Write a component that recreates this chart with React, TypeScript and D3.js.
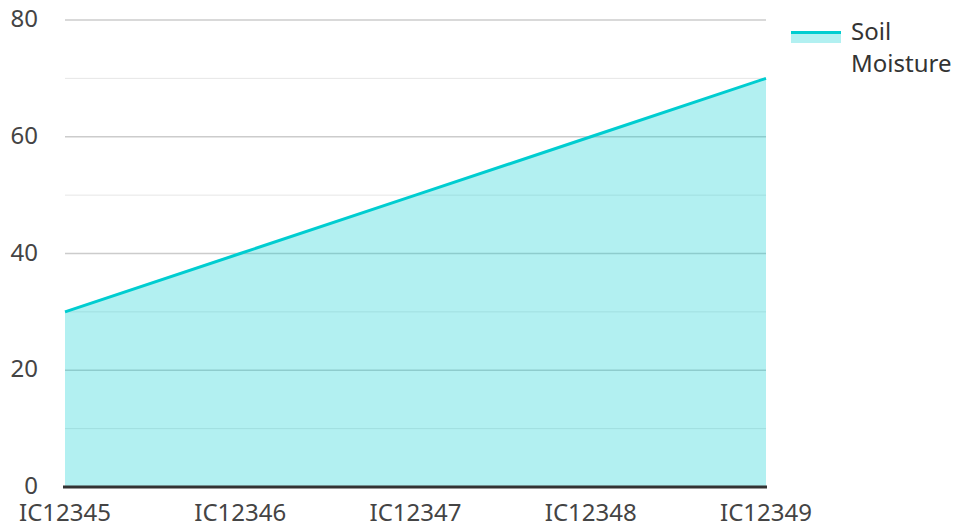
import * as d3 from 'd3';

const categories = ['IC12345', 'IC12346', 'IC12347', 'IC12348', 'IC12349'];
const moisture = [30, 40, 50, 60, 70];
const majorTicks = [0, 20, 40, 60, 80];
const minorTicks = [10, 30, 50, 70];

const width = 956;
const height = 526;
const margin = { top: 20, right: 190, bottom: 39, left: 65 };
const lineColor = '#00cdd0';
const font = '"Noto Sans", "Open Sans", sans-serif';

export default function App() {
  const x = d3
    .scalePoint<string>()
    .domain(categories)
    .range([margin.left, width - margin.right]);
  const y = d3
    .scaleLinear()
    .domain([0, 80])
    .range([height - margin.bottom, margin.top]);

  const pts = categories.map((c, i) => ({ c, v: moisture[i] }));
  const line = d3
    .line<{ c: string; v: number }>()
    .x((d) => x(d.c)!)
    .y((d) => y(d.v));
  const area = d3
    .area<{ c: string; v: number }>()
    .x((d) => x(d.c)!)
    .y0(y(0))
    .y1((d) => y(d.v));

  const x0 = margin.left;
  const x1 = width - margin.right;

  return (
    <svg
      width={width}
      height={height}
      style={{ position: 'absolute', left: 0, top: 0, fontFamily: font }}
    >
      <g>
        {minorTicks.map((t) => (
          <line key={'m' + t} x1={x0} x2={x1} y1={y(t)} y2={y(t)} stroke="#e6e6e6" strokeWidth={1} />
        ))}
        {majorTicks.map((t) => (
          <line key={'M' + t} x1={x0} x2={x1} y1={y(t)} y2={y(t)} stroke="#cccccc" strokeWidth={1.5} />
        ))}
      </g>
      <path d={area(pts)!} fill={lineColor} fillOpacity={0.3} />
      <path d={line(pts)!} fill="none" stroke={lineColor} strokeWidth={3} />
      <line x1={x0 - 2} x2={x1 + 1} y1={y(0)} y2={y(0)} stroke="#333" strokeWidth={3} />
      <g fill="#444" fontSize={24}>
        {majorTicks.map((t) => (
          <text key={t} x={38} y={y(t)} dy="0.3em" textAnchor="end">
            {t}
          </text>
        ))}
        {categories.map((c) => (
          <text key={c} x={x(c)} y={521} textAnchor="middle">
            {c}
          </text>
        ))}
      </g>
      <g fill="#333" fontSize={24}>
        <rect x={791} y={32} width={50} height={11} fill={lineColor} fillOpacity={0.3} />
        <line x1={791} x2={841} y1={32.5} y2={32.5} stroke={lineColor} strokeWidth={3} />
        <text x={851} y={40}>
          Soil
        </text>
        <text x={851} y={72}>
          Moisture
        </text>
      </g>
    </svg>
  );
}
